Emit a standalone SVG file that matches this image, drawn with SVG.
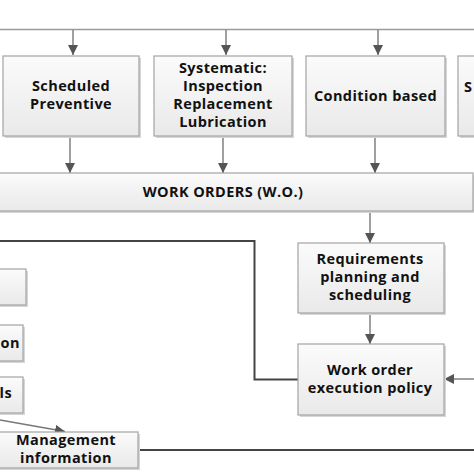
<svg xmlns="http://www.w3.org/2000/svg" width="474" height="474" viewBox="0 0 474 474">
<defs>
<linearGradient id="g" x1="0" y1="0" x2="0" y2="1">
<stop offset="0" stop-color="#fbfbfb"/>
<stop offset="1" stop-color="#e9e9e9"/>
</linearGradient>
<marker id="ah" viewBox="0 0 10 10" refX="10" refY="5" markerWidth="10" markerHeight="10" markerUnits="userSpaceOnUse" orient="auto">
<path d="M0,0 L10,5 L0,10 Z" fill="#555"/>
</marker>
</defs>
<style>
.box{fill:url(#g);stroke:#a3a3a3;stroke-width:1.2}
.sh{fill:#d6d6d6}
.t{font-family:"Open Sans","Noto Sans",sans-serif;font-weight:700;font-size:14.5px;letter-spacing:0.4px;fill:#111;text-anchor:middle}
.c{stroke:#777;stroke-width:1.4;fill:none}
.d{stroke:#444;stroke-width:2;fill:none}
.top{stroke:#9a9a9a;stroke-width:1.6;fill:none}
</style>
<rect width="474" height="474" fill="#fff"/>
<g id="connectors">
<line class="top" x1="0" y1="29.5" x2="474" y2="29.5"/>
<line class="c" x1="73" y1="30" x2="73" y2="55" marker-end="url(#ah)"/>
<line class="c" x1="226" y1="30" x2="226" y2="55" marker-end="url(#ah)"/>
<line class="c" x1="378" y1="30" x2="378" y2="55" marker-end="url(#ah)"/>
<line class="c" x1="70" y1="136" x2="70" y2="173" marker-end="url(#ah)"/>
<line class="c" x1="223" y1="136" x2="223" y2="173" marker-end="url(#ah)"/>
<line class="c" x1="375" y1="136" x2="375" y2="173" marker-end="url(#ah)"/>
<line class="c" x1="370" y1="211" x2="370" y2="243" marker-end="url(#ah)"/>
<line class="c" x1="370" y1="313" x2="370" y2="344" marker-end="url(#ah)"/>
<line class="c" x1="474" y1="379" x2="444" y2="379" marker-end="url(#ah)"/>
<polyline class="d" points="0,241 254.5,241 254.5,379.5 298,379.5"/>
<line class="d" x1="138" y1="450" x2="474" y2="450"/>
<line class="c" x1="0" y1="420" x2="65" y2="431.5" marker-end="url(#ah)"/>
</g>
<g id="scheduled">
<rect class="sh" x="5" y="58" width="136" height="80"/>
<rect class="box" x="3" y="56" width="136" height="80"/>
<text class="t" x="71" y="91">Scheduled</text>
<text class="t" x="71" y="109">Preventive</text>
</g>
<g id="systematic">
<rect class="sh" x="156" y="58" width="138" height="80"/>
<rect class="box" x="154" y="56" width="138" height="80"/>
<text class="t" x="223" y="73">Systematic:</text>
<text class="t" x="223" y="91">Inspection</text>
<text class="t" x="223" y="109">Replacement</text>
<text class="t" x="223" y="127">Lubrication</text>
</g>
<g id="condition">
<rect class="sh" x="308" y="58" width="139" height="80"/>
<rect class="box" x="306" y="56" width="139" height="80"/>
<text class="t" x="375.5" y="101">Condition based</text>
</g>
<g id="right-box">
<rect class="sh" x="460" y="58" width="30" height="80"/>
<rect class="box" x="458" y="56" width="30" height="80"/>
<text class="t" x="464" y="92" style="text-anchor:start">S</text>
</g>
<g id="work-orders">
<rect class="sh" x="-2" y="175" width="478" height="38"/>
<rect class="box" x="-4" y="173" width="477" height="38"/>
<text class="t" x="223" y="197">WORK ORDERS (W.O.)</text>
</g>
<g id="requirements">
<rect class="sh" x="300" y="245" width="146" height="70"/>
<rect class="box" x="298" y="243" width="146" height="70"/>
<text class="t" x="370" y="264">Requirements</text>
<text class="t" x="370" y="282">planning and</text>
<text class="t" x="370" y="300">scheduling</text>
</g>
<g id="work-order-policy">
<rect class="sh" x="300" y="346" width="146" height="71"/>
<rect class="box" x="298" y="344" width="146" height="71"/>
<text class="t" x="370" y="375">Work order</text>
<text class="t" x="370" y="393">execution policy</text>
</g>
<g id="left-box-1">
<rect class="sh" x="-8" y="271" width="36" height="36"/>
<rect class="box" x="-10" y="269" width="36" height="36"/>
</g>
<g id="left-box-2">
<rect class="sh" x="-8" y="327" width="33" height="36"/>
<rect class="box" x="-10" y="325" width="33" height="36"/>
<text class="t" x="0.5" y="348" style="text-anchor:start">on</text>
</g>
<g id="left-box-3">
<rect class="sh" x="-8" y="379" width="33" height="36"/>
<rect class="box" x="-10" y="377" width="33" height="36"/>
<text class="t" x="12" y="398" style="text-anchor:end">ls</text>
</g>
<g id="management">
<rect class="sh" x="-4" y="434" width="144" height="36"/>
<rect class="box" x="-6" y="432" width="144" height="36"/>
<text class="t" x="66" y="445">Management</text>
<text class="t" x="66" y="463">information</text>
</g>
</svg>
